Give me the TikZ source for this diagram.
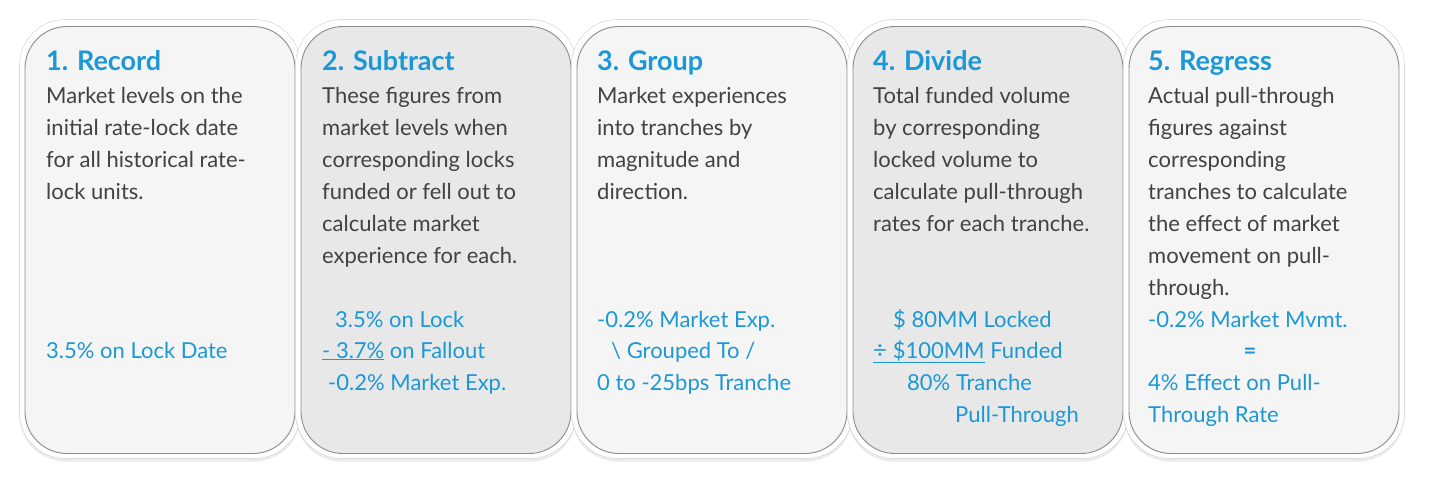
\documentclass[tikz,border=0pt]{standalone}
\usepackage{fontspec}
\setmainfont{Lato}
\usetikzlibrary{shadows}
\definecolor{tblue}{HTML}{1B98D5}
\definecolor{tgray}{HTML}{424242}
\definecolor{lightfill}{HTML}{F5F5F5}
\definecolor{darkfill}{HTML}{E8E8E8}
\tikzset{
  x=1pt, y=-1pt,
  outerbox/.style={draw=black!14, line width=0.6pt, fill=white, rounded corners=46pt,
    minimum width=281pt, minimum height=439pt, inner sep=0pt,
    drop shadow={opacity=0.16, shadow xshift=0pt, shadow yshift=-3pt}},
  innerbox/.style={draw=black!45, line width=0.9pt, rounded corners=42pt,
    minimum width=270pt, minimum height=427pt, inner sep=0pt},
  body/.style={anchor=base west, inner sep=0pt, text=tgray, font=\fontsize{22}{26}\selectfont},
  val/.style={anchor=base west, inner sep=0pt, text=tblue, font=\fontsize{22}{26}\selectfont},
  ttl/.style={anchor=base west, inner sep=0pt, text=tblue, font=\fontsize{27}{32}\selectfont\bfseries},
}
\begin{document}
\begin{tikzpicture}
\useasboundingbox (0,0) rectangle (1429,480);
% panels
\foreach \i/\c in {1/lightfill,2/darkfill,3/lightfill,4/darkfill,5/lightfill}{
  \node[outerbox] (p\i) at ({160+276*(\i-1)},239) {};
  \node[innerbox, fill=\c] (q\i) at ({160+276*(\i-1)},240) {};
}
% panel 1
\node[ttl] (t1) at (46,70) {1. Record};
\foreach \t [count=\k] in {Market levels on the,initial rate-lock date,for all historical rate-,lock units.}
  \node[body] (a1-\k) at (46,{103+32*(\k-1)}) {\t};
\node[val] (v1-1) at (46,358) {3.5\% on Lock Date};
% panel 2
\node[ttl] (t2) at (322,70) {2. Subtract};
\foreach \t [count=\k] in {These figures from,market levels when,corresponding locks,funded or fell out to,calculate market,experience for each.}
  \node[body] (a2-\k) at (322,{103+32*(\k-1)}) {\t};
\node[val] (v2-1) at (335,327) {3.5\% on Lock};
\node[val] (v2-2) at (322,358) {\underline{- 3.7\%} on Fallout};
\node[val] (v2-3) at (328,390) {-0.2\% Market Exp.};
% panel 3
\node[ttl] (t3) at (597,70) {3. Group};
\foreach \t [count=\k] in {Market experiences,into tranches by,magnitude and,direction.}
  \node[body] (a3-\k) at (597,{103+32*(\k-1)}) {\t};
\node[val] (v3-1) at (597,327) {-0.2\% Market Exp.};
\node[val] (v3-2) at (611,358) {\textbackslash{} Grouped To /};
\node[val] (v3-3) at (597,390) {0 to -25bps Tranche};
% panel 4
\node[ttl] (t4) at (873,70) {4. Divide};
\foreach \t [count=\k] in {Total funded volume,by corresponding,locked volume to,calculate pull-through,rates for each tranche.}
  \node[body] (a4-\k) at (873,{103+32*(\k-1)}) {\t};
\node[val] (v4-1) at (893,327) {\$ 80MM Locked};
\node[val] (v4-2) at (873,358) {\underline{{\fontsize{24}{26}\selectfont ÷} \$100MM} Funded};
\node[val] (v4-3) at (907,390) {80\% Tranche};
\node[val] (v4-4) at (955,422) {Pull-Through};
% panel 5
\node[ttl] (t5) at (1148,70) {5. Regress};
\foreach \t [count=\k] in {Actual pull-through,figures against,corresponding,tranches to calculate,the effect of market,movement on pull-,through.}
  \node[body] (a5-\k) at (1148,{103+32*(\k-1)}) {\t};
\node[val] (v5-1) at (1148,327) {-0.2\% Market Mvmt.};
\node[val, anchor=base, font=\fontsize{22}{26}\selectfont\bfseries] (v5-2) at (1250,358) {=};
\node[val] (v5-3) at (1148,390) {4\% Effect on Pull-};
\node[val] (v5-4) at (1148,422) {Through Rate};
\end{tikzpicture}
\end{document}
